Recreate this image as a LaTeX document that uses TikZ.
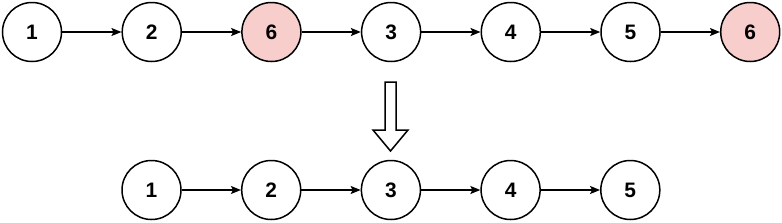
\documentclass[tikz,border=0pt]{standalone}
\usepackage{fontspec}
\setmainfont{Liberation Sans}
\usepackage{tikz}
\usetikzlibrary{arrows.meta, positioning}
\definecolor{dupred}{HTML}{F8CECC}

\begin{document}
\begin{tikzpicture}[
  x=1bp, y=-1bp,
  node distance=59.2bp,
  item/.style={draw, circle, line width=1.5bp, minimum size=59bp, inner sep=0pt,
               font=\fontsize{21}{22}\selectfont\bfseries},
  dup/.style={item, fill=dupred},
  arr/.style={-{Stealth[length=10bp, width=8bp, inset=2bp]}, line width=1.5bp},
]
  \useasboundingbox (0,0) rectangle (782,222);

  % list with the duplicates
  \node[item] (a1) at (32,32) {1};
  \node[item, right=of a1] (a2) {2};
  \node[dup,  right=of a2] (a6) {6};
  \node[item, right=of a6] (a3) {3};
  \node[item, right=of a3] (a4) {4};
  \node[item, right=of a4] (a5) {5};
  \node[dup,  right=of a5] (a7) {6};

  \draw[arr] (a1) -- (a2);
  \draw[arr] (a2) -- (a6);
  \draw[arr] (a6) -- (a3);
  \draw[arr] (a3) -- (a4);
  \draw[arr] (a4) -- (a5);
  \draw[arr] (a5) -- (a7);

  % hollow arrow
  \draw[line width=1.5bp, fill=white]
    (385,82) -- (396,82) -- (396,130) -- (408,130) -- (390.5,151)
    -- (373,130) -- (385,130) -- cycle;

  % list after removal
  \node[item] (b1) at (151.5,190) {1};
  \node[item, right=of b1] (b2) {2};
  \node[item, right=of b2] (b3) {3};
  \node[item, right=of b3] (b4) {4};
  \node[item, right=of b4] (b5) {5};

  \draw[arr] (b1) -- (b2);
  \draw[arr] (b2) -- (b3);
  \draw[arr] (b3) -- (b4);
  \draw[arr] (b4) -- (b5);
\end{tikzpicture}
\end{document}
